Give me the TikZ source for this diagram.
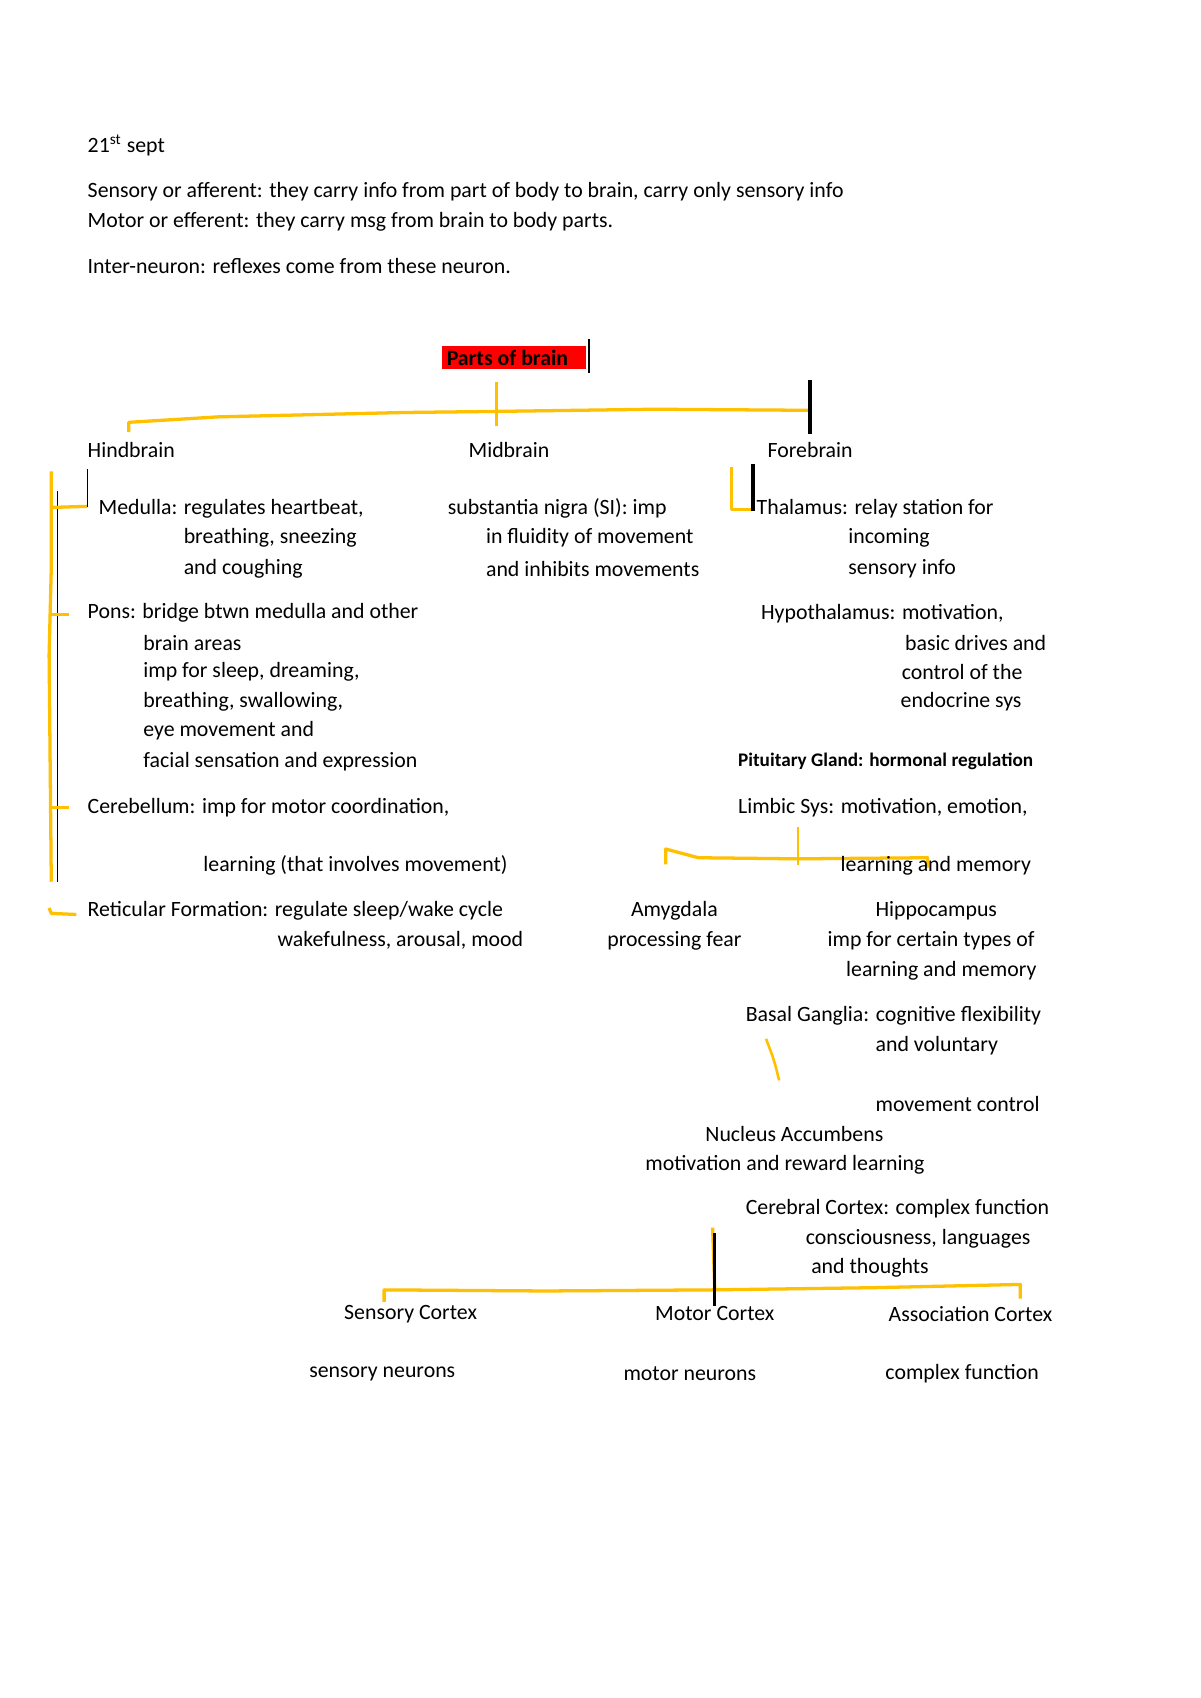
\documentclass[tikz,border=0pt]{standalone}
\usepackage{fontspec}
\setmainfont{Carlito}
\begin{document}
\begin{tikzpicture}[x=0.5pt,y=-0.5pt,
  t/.style={anchor=west,inner sep=0pt,font=\fontsize{10}{12}\selectfont},
  tc/.style={anchor=center,inner sep=0pt,font=\fontsize{10}{12}\selectfont},
  yl/.style={draw={rgb,255:red,255;green,192;blue,0},line width=1.5pt,line join=round},
  bl/.style={draw=black,line width=1pt}]
\useasboundingbox (0,0) rectangle (1100,1556);
\fill[white] (0,0) rectangle (1100,1556);
% header
\node[t] (d) at (80,133) {21\textsuperscript{st} sept};
\node[t] (s1) at (80,176) {Sensory or afferent: they carry info from part of body to brain, carry only sensory info};
\node[t] (s2) at (80,203) {Motor or efferent: they carry msg from brain to body parts.};
\node[t] (s3) at (80,244) {Inter-neuron: reflexes come from these neuron.};
% title
\fill[red] (405,317) rectangle (537,338);
\node[t,font=\fontsize{10}{12}\selectfont\bfseries] (pb) at (409,328) {Parts of brain};
\draw[bl] (540,311) -- (540,342);
% top bracket
\draw[yl] (118,396) -- (118,387) -- (200,382) -- (370,378) -- (455,377) -- (600,375) -- (742,376) -- (742,396);
\draw[yl] (455,350) -- (455,390);
\draw[bl,line width=2pt] (742,348) -- (742,398);
\node[t] (hb) at (80,412) {Hindbrain};
\node[t] (mb) at (429,412) {Midbrain};
\node[t] (fb) at (703,412) {Forebrain};
% hindbrain bracket
\draw[yl] (47,432) -- (47,520) -- (45,600) -- (47,808);
\draw[bl,line width=0.6pt] (53,450) -- (53,808);
\draw[yl] (47,465) -- (80,464);
\draw[bl,line width=0.6pt] (80,430) -- (80,465);
\draw[yl] (45,563) -- (63,563);
\draw[yl] (47,740) -- (63,740);
\draw[yl] (45,832) -- (47,837) -- (70,838);
\node[t] at (90,466) {Medulla: regulates heartbeat,};
\node[t] at (168,493) {breathing, sneezing};
\node[t] at (168,521) {and coughing};
\node[t] at (80,562) {Pons: bridge btwn medulla and other};
\node[t] at (131,589) {brain areas};
\node[t] at (131,616) {imp for sleep, dreaming,};
\node[t] at (131,643) {breathing, swallowing,};
\node[t] at (131,670) {eye movement and};
\node[t] at (131,698) {facial sensation and expression};
\node[t] at (80,740) {Cerebellum: imp for motor coordination,};
\node[t] at (186,793) {learning (that involves movement)};
\node[t] at (80,835) {Reticular Formation: regulate sleep/wake cycle};
\node[t] at (254,862) {wakefulness, arousal, mood};
% midbrain
\node[t] at (410,466) {substantia nigra (SI): imp};
\node[t] at (445,493) {in fluidity of movement};
\node[t] at (445,521) {and inhibits movements};
% forebrain
\draw[yl] (670,428) -- (670,467) -- (690,467);
\draw[bl,line width=1.5pt] (690,425) -- (690,468);
\node[t] at (693,466) {Thalamus: relay station for};
\node[t] at (777,493) {incoming};
\node[t] at (777,521) {sensory info};
\node[t] at (697,562) {Hypothalamus: motivation,};
\node[t] at (829,589) {basic drives and};
\node[t] at (826,616) {control of the};
\node[t] at (825,643) {endocrine sys};
\node[t,font=\fontsize{8.8}{10}\selectfont\bfseries] at (676,698) {Pituitary Gland: hormonal regulation};
\node[t] at (676,740) {Limbic Sys: motivation, emotion,};
\draw[yl] (610,792) -- (610,778) -- (640,786) -- (731,787) -- (850,786) -- (850,795);
\draw[yl,line width=1pt] (731,758) -- (731,793);
\node[t] at (770,793) {learning and memory};
\node[tc] at (618,835) {Amygdala};
\node[tc] at (618,862) {processing fear};
\node[tc] at (858,835) {Hippocampus};
\node[t] at (758,862) {imp for certain types of};
\node[t] at (775,890) {learning and memory};
\node[t] at (683,931) {Basal Ganglia: cognitive flexibility};
\node[t] at (802,958) {and voluntary};
\draw[yl,line width=1.2pt] (702,952) -- (708,968) -- (711,978) -- (714,990);
\node[t] at (802,1012) {movement control};
\node[t] at (646,1039) {Nucleus Accumbens};
\node[t] at (591,1067) {motivation and reward learning};
\node[t] at (683,1108) {Cerebral Cortex: complex function};
\node[t] at (738,1135) {consciousness, languages};
\node[t] at (743,1162) {and thoughts};
% cortex bracket
\draw[yl] (352,1193) -- (352,1182) -- (500,1183) -- (653,1182) -- (800,1180) -- (935,1177) -- (935,1190);
\draw[yl] (653,1125) -- (655,1182);
\draw[bl,line width=1.5pt] (655,1130) -- (655,1197);
\node[t] at (315,1204) {Sensory Cortex};
\node[t] at (600,1204) {Motor Cortex};
\node[t] at (814,1204) {Association Cortex};
\node[t] at (283,1259) {sensory neurons};
\node[t] at (571,1259) {motor neurons};
\node[t] at (811,1259) {complex function};
\end{tikzpicture}
\end{document}
